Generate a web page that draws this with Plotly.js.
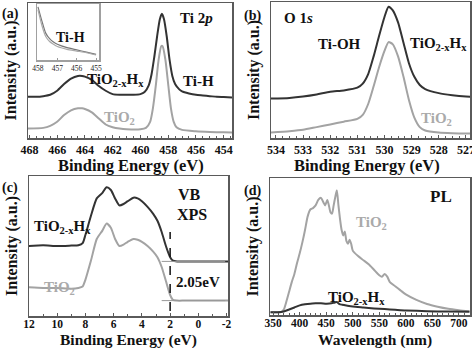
<!DOCTYPE html>
<html><head><meta charset="utf-8">
<script src="https://cdn.plot.ly/plotly-3.0.1.min.js"></script>
<style>html,body{margin:0;padding:0;background:#fff}#chart{width:472px;height:348px}</style>
</head><body><div id="chart"></div>
<script>
// ---------- DATA ----------
// (a) Ti 2p XPS
const tiX_dark = [468.1,467.5,467,466.5,466,465.5,465,464.5,464.2,464,463.5,463,462.5,462,461.5,461,460.5,460,459.7,459.4,459.2,459,458.8,458.6,458.45,458.3,458.1,457.9,457.7,457.5,457.2,457,456.5,456,455.5,455,454.5,454,453.4];
const tiY_dark = [30.5,30.5,31,32,35,40,44,46,46,45.5,43,38.5,35,32.5,32,32,32,32.5,34,39,47,60,75,88,92,88,75,58,46,40,36,34.5,33,32,31.5,31,30.5,30.3,30];
const tiX_gray = [468.1,467,466.5,466,465.5,465,464.5,464.2,464,463.5,463,462.5,462,461.5,461,460,459.6,459.3,459.1,458.9,458.7,458.5,458.4,458.2,458,457.8,457.6,457.4,457,456,455,454,453.4];
const tiY_gray = [7,7.5,9,12,17,20.5,22,22,21.5,19,14.5,10,8,7,6.5,6.5,7.5,12,22,38,57,68,68,58,40,22,12,8,6,5,4.5,4.2,4];
// (a) inset Ti-H
const inX = [458,457.8,457.6,457.4,457.2,457,456.5,456,455.5,455];
const inY_dark = [95,70,48,38,32,28,22,18,14,10];
const inY_gray = [90,62,42,33,28,24,19,16,13,9];
// (b) O 1s XPS
const oX = [534.2,533.5,533,532.5,532,531.5,531,530.8,530.6,530.4,530.2,530,529.85,529.7,529.5,529.3,529.1,528.9,528.7,528.5,528,527.5,527,526.8];
const oY_dark = [29,29.5,30.5,32,34,35,37,40,47,60,75,89,96.5,94,85,70,55,45,39,36,33,31.5,30.5,30.3];
const oY_gray = [4,5,6,8,10,12,14,17,25,38,52,64,70.5,69,60,45,28,15,8,5.5,4,3.5,3.3,3.3];
// (c) VB XPS
const vbX = [12.05,11,10,9,8.5,8.2,8,7.6,7.2,6.8,6.5,6.2,5.9,5.6,5.3,5,4.6,4.3,4,3.6,3.2,2.9,2.6,2.3,2.0,1.8,1.5,1,0,-1,-2.1];
const vbY_dark = [50,50.5,50,50.3,50.5,52,58,72,84,88,92,90,84,79,80,82,84.5,84,82,78,73,68,60,50,42,39.5,39,39,39,39,39];
const vbY_gray = [20.5,20,20,19.5,20,21,26,40,55,61,66,63,55,50,51,53,55,54.5,53,50,46,42,35,25,15,11.5,11,11,11,11,11];
const vbEdge = 2.0;
// (d) PL
const plX_gray = [345,355,365,370,375,380,385,390,395,400,405,410,415,420,425,430,435,440,445,448,452,455,458,461,464,467,470,473,476,479,482,485,488,491,494,497,500,510,520,530,540,550,555,560,565,570,580,590,600,620,640,660,680,700,720];
const plY_gray = [2,2,2.2,4,10,17,24,30,38,45,53,62,72,77,78,80,84,85.5,82,80,84,80,75,74,80,86,91,80,70,62,58,61,54,52,55,52,47,43,40,37,33,29,28,30,28,24,21,18,15,11,8,6,4.5,3.5,2.7];
const plX_dark = [345,365,370,380,390,400,410,420,430,440,450,460,465,470,475,480,490,500,520,540,560,580,600,640,680,720];
const plY_dark = [2,2.2,2.5,4,5.5,7,7.8,8.3,8.5,8.6,8.3,8.5,9,9.5,8,7.5,6.8,6.2,5.5,4.8,4.3,3.8,3.3,2.8,2.5,2.3];
// tick labels
const aTicks = [468,466,464,462,460,458,456,454];
const inTicks = [458,457,456,455];
const bTicks = [534,533,532,531,530,529,528,527];
const cTicks = [12,10,8,6,4,2,0,-2];
const dTicks = [350,400,450,500,550,600,650,700];

// ---------- STYLE ----------
const W = 472, H = 348;
const FF = 'Liberation Serif';
const DARK = '#333333', GRAY = '#a3a3a3', AX = '#5a5a5a';
const P = (x, y) => ({x: x / W, y: 1 - y / H});

function line(x, y, color, xa, ya, w) {
  return {x: x, y: y, type: 'scatter', mode: 'lines', xaxis: xa, yaxis: ya,
    line: {color: color, width: w || 2, shape: 'spline', smoothing: 0.6}, hoverinfo: 'skip', showlegend: false};
}
const traces = [
  line(tiX_dark, tiY_dark, DARK, 'x', 'y'),
  line(tiX_gray, tiY_gray, GRAY, 'x', 'y'),
  line(oX, oY_dark, DARK, 'x2', 'y2'),
  line(oX, oY_gray, GRAY, 'x2', 'y2'),
  line(vbX, vbY_dark, DARK, 'x3', 'y3'),
  line(vbX, vbY_gray, GRAY, 'x3', 'y3'),
  line(plX_gray, plY_gray, GRAY, 'x4', 'y4'),
  line(plX_dark, plY_dark, DARK, 'x4', 'y4'),
  line(inX, inY_dark, '#777', 'x5', 'y5', 1.2),
  line(inX, inY_gray, '#aaa', 'x5', 'y5', 1.2)
];

function xax(dom, range, ticks, minor, anchor, standoff, fs) {
  return {domain: dom, range: range, anchor: anchor, tickvals: ticks,
    ticktext: ticks.map(t => '<b>' + t + '</b>'), ticklabeloverflow: 'allow', ticklabelstandoff: standoff,
    ticks: 'inside', ticklen: 3, tickcolor: AX, showgrid: false, zeroline: false,
    showline: true, mirror: true, linecolor: AX, linewidth: 1.5,
    minor: {dtick: minor, ticks: 'inside', ticklen: 2, tickcolor: AX, showgrid: false},
    tickfont: {family: FF, size: fs, color: '#111'}};
}
function yax(dom, anchor) {
  return {domain: dom, range: [0, 100], anchor: anchor, showticklabels: false, ticks: '',
    showgrid: false, zeroline: false, showline: true, mirror: true, linecolor: AX, linewidth: 1.5,
    title: {text: '<b>Intensity (a.u.)</b>', font: {family: FF, size: 16, color: '#111'}, standoff: 6}};
}

const layout = {
  width: W, height: H, margin: {l: 0, r: 0, t: 0, b: 0},
  paper_bgcolor: '#fff', plot_bgcolor: 'rgba(0,0,0,0)', showlegend: false,
  xaxis: xax([28 / W, 232 / W], [468.1, 453.4], aTicks, 0.5, 'y', 0, 12),
  yaxis: yax([1 - 138 / H, 1 - 3 / H], 'x'),
  xaxis2: xax([271 / W, 470 / W], [534.18, 526.85], bTicks, 0.25, 'y2', 0, 12),
  yaxis2: yax([1 - 138 / H, 1 - 2 / H], 'x2'),
  xaxis3: xax([29 / W, 228 / W], [12.0, -2.1], cTicks, 1, 'y3', -3, 11.5),
  yaxis3: yax([1 - 316 / H, 1 - 176 / H], 'x3'),
  xaxis4: xax([270 / W, 470 / W], [344, 721], dTicks, 10, 'y4', -3, 11.5),
  yaxis4: yax([1 - 315 / H, 1 - 178 / H], 'x4'),
  xaxis5: {domain: [37 / W, 99 / W], range: [458.05, 454.85], anchor: 'y5', tickvals: inTicks,
    ticks: 'inside', ticklen: 2, tickcolor: '#999', showgrid: false, zeroline: false,
    showline: true, mirror: true, linecolor: '#a0a0a0', linewidth: 1.5,
    tickfont: {family: FF, size: 7.5, color: '#222'}},
  yaxis5: {domain: [1 - 60 / H, 1 - 4 / H], range: [0, 100], anchor: 'x5', showticklabels: false,
    ticks: '', showgrid: false, zeroline: false, showline: true, mirror: true, linecolor: '#a0a0a0', linewidth: 1.5},
  shapes: [
    {type: 'line', xref: 'x3', yref: 'y3', x0: vbEdge, x1: vbEdge, y0: 3.5, y1: 60,
     line: {color: '#111', width: 1.5, dash: 'dash'}},
    {type: 'line', xref: 'x3', yref: 'y3', x0: 2.6, x1: -1.9, y0: vbY_dark[vbY_dark.length - 1], y1: vbY_dark[vbY_dark.length - 1],
     line: {color: '#999', width: 1}},
    {type: 'line', xref: 'x3', yref: 'y3', x0: 2.6, x1: -1.9, y0: vbY_gray[vbY_gray.length - 1], y1: vbY_gray[vbY_gray.length - 1],
     line: {color: '#999', width: 1}}
  ],
  annotations: []
};

function ann(text, px, py, color, size) {
  const p = P(px, py);
  layout.annotations.push({text: '<b>' + text + '</b>', x: p.x, y: p.y, xref: 'paper', yref: 'paper', showarrow: false,
    xanchor: 'center', yanchor: 'middle',
    font: {family: FF, size: size || 15, color: color || '#111'}});
}
const TIOH = 'TiO<sub>2-x</sub>H<sub>x</sub>', TIO2 = 'TiO<sub>2</sub>';
// x-axis titles
ann('Binding Energy (eV)', 131, 165, '#111', 16.5);
ann('Binding Energy (eV)', 367, 165, '#111', 16.5);
ann('Binding Energy (eV)', 128, 340, '#111', 15.5);
ann('Wavelength (nm)', 375, 340, '#111', 15.5);
// labels
ann('(a)', 10, 14, '#111', 14);
ann('Ti 2<i>p</i>', 196, 18);
ann('Ti-H', 198, 81);
ann(TIOH, 115, 80);
ann(TIO2, 119, 118, '#aaa');
ann('Ti-H', 70, 37, '#111', 14);
ann('(b)', 252, 16, '#111', 14);
ann('O 1<i>s</i>', 298, 18);
ann('Ti-OH', 339, 44);
ann(TIOH, 438, 44);
ann(TIO2, 436, 119, '#aaa');
ann('(c)', 10, 188, '#111', 14);
ann('VB', 189, 195, '#111', 16);
ann('XPS', 192, 214, '#111', 16);
ann(TIOH, 62, 227);
ann(TIO2, 59, 288, '#aaa');
ann('2.05eV', 198, 282);
ann('(d)', 252, 191, '#111', 14);
ann('PL', 441, 196, '#111', 17);
ann(TIO2, 371, 223, '#aaa');
ann(TIOH, 356, 298);

Plotly.newPlot('chart', traces, layout, {staticPlot: true, displayModeBar: false});
</script></body></html>
